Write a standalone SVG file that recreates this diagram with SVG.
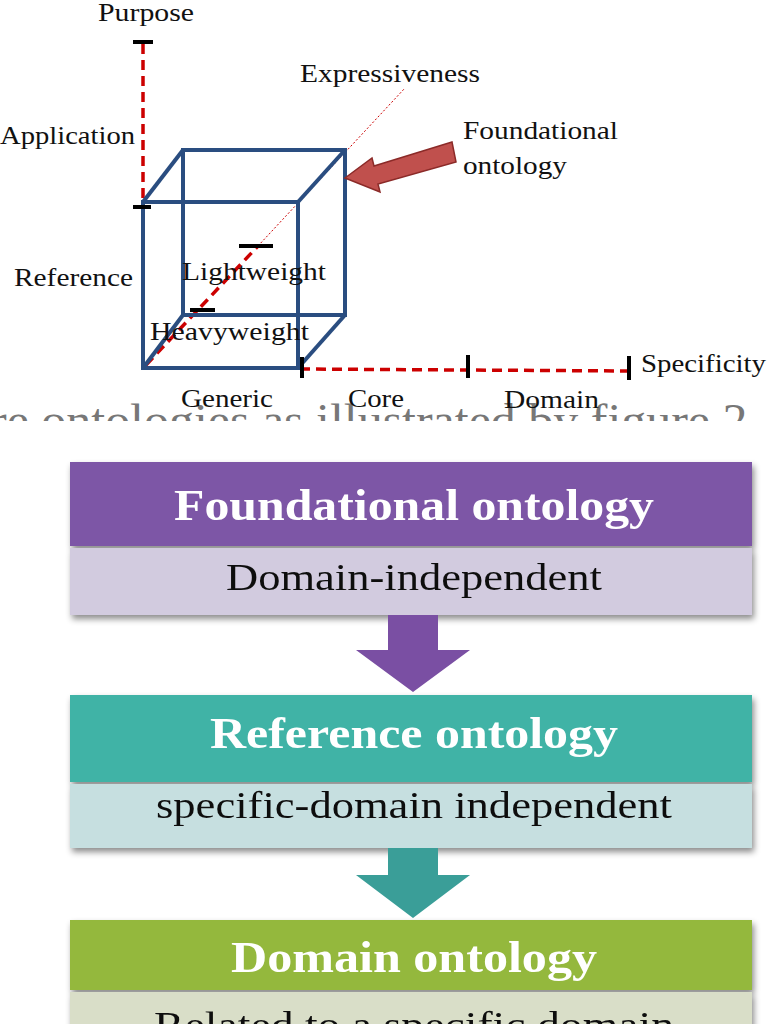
<svg xmlns="http://www.w3.org/2000/svg" width="768" height="1024" viewBox="0 0 768 1024">
<defs>
<style>
.t{font-family:"Liberation Serif",serif;fill:#111}
.h{font-family:"Liberation Serif",serif;font-weight:bold;fill:#fff;font-size:44px;text-anchor:middle}
.s{font-family:"Liberation Serif",serif;fill:#111;font-size:38px;text-anchor:middle}
.cube{stroke:#2a4d80;stroke-width:4;fill:none}
.ax{stroke:#c00;stroke-width:3.5;stroke-dasharray:10 6;fill:none}
.tk{stroke:#000;stroke-width:4}
</style>
<clipPath id="cp"><rect x="0" y="0" width="768" height="421"/></clipPath>
<filter id="sh" x="-5%" y="-10%" width="110%" height="130%"><feDropShadow dx="2" dy="4" stdDeviation="3" flood-color="#000" flood-opacity="0.45"/></filter>
</defs>
<rect width="768" height="1024" fill="#fff"/>
<text x="-10" y="436" clip-path="url(#cp)" font-family="Liberation Serif,serif" font-size="46" fill="#777" textLength="770" lengthAdjust="spacingAndGlyphs">re ontologies as illustrated by figure 2.</text>
<g id="connectors">
<line class="ax" x1="143" y1="44" x2="143" y2="368"/>
<line class="ax" x1="300" y1="369" x2="628" y2="371"/>
<line class="ax" x1="146" y1="365" x2="258" y2="246"/>
<line x1="258" y1="246" x2="405" y2="88" stroke="#c00" stroke-width="1" stroke-dasharray="2 2"/>
</g>
<g id="cube">
<polygon class="cube" points="183,150 345,150 345,315 183,315"/>
<polygon class="cube" points="143,202 298,202 298,368 143,368"/>
<line class="cube" x1="143" y1="202" x2="183" y2="150"/><line class="cube" x1="298" y1="202" x2="345" y2="150"/>
<line class="cube" x1="143" y1="368" x2="183" y2="315"/><line class="cube" x1="298" y1="368" x2="345" y2="315"/>
</g>
<g id="ticks">
<line class="tk" x1="133" y1="42" x2="153" y2="42"/>
<line class="tk" x1="133" y1="207" x2="151" y2="207"/>
<line class="tk" x1="239" y1="246" x2="273" y2="246"/>
<line class="tk" x1="190" y1="310" x2="215" y2="310"/>
<line class="tk" x1="302" y1="357" x2="302" y2="378"/>
<line class="tk" x1="468" y1="355" x2="468" y2="378"/>
<line class="tk" x1="629" y1="356" x2="629" y2="380"/>
</g>
<g id="labels" font-size="25" lengthAdjust="spacingAndGlyphs">
<text class="t" x="98" y="21" textLength="96" lengthAdjust="spacingAndGlyphs">Purpose</text>
<text class="t" x="300" y="82" textLength="180" lengthAdjust="spacingAndGlyphs">Expressiveness</text>
<text class="t" x="0" y="144" textLength="135" lengthAdjust="spacingAndGlyphs">Application</text>
<text class="t" x="14" y="286" textLength="119" lengthAdjust="spacingAndGlyphs">Reference</text>
<text class="t" x="182" y="280" textLength="144" lengthAdjust="spacingAndGlyphs">Lightweight</text>
<text class="t" x="150" y="340" textLength="159" lengthAdjust="spacingAndGlyphs">Heavyweight</text>
<text class="t" x="641" y="372" textLength="125" lengthAdjust="spacingAndGlyphs">Specificity</text>
<text class="t" x="181" y="407" textLength="92" lengthAdjust="spacingAndGlyphs">Generic</text>
<text class="t" x="348" y="407" textLength="56" lengthAdjust="spacingAndGlyphs">Core</text>
<text class="t" x="504" y="408" textLength="95" lengthAdjust="spacingAndGlyphs">Domain</text>
<text class="t" x="463" y="139" textLength="155" lengthAdjust="spacingAndGlyphs">Foundational</text>
<text class="t" x="463" y="174" textLength="104" lengthAdjust="spacingAndGlyphs">ontology</text>
</g>
<g id="redarrow">
<polygon points="345,178 372,158 374,166 452,142 456,162 378,184 380,192" fill="#c0504d" stroke="#8b2a28" stroke-width="1.5"/>
</g>
<g id="foundational" filter="url(#sh)">
<rect x="70" y="462" width="682" height="84" fill="#7d56a6"/>
<rect x="70" y="548" width="682" height="67" fill="#d2cbdf"/>
<text class="h" x="414" y="520" textLength="480" lengthAdjust="spacingAndGlyphs">Foundational ontology</text>
<text class="s" x="414" y="590" textLength="376" lengthAdjust="spacingAndGlyphs">Domain-independent</text>
</g>
<g id="arrow1"><polygon points="388,615 438,615 438,650 470,650 413,692 356,650 388,650" fill="#7a4fa3"/></g>
<g id="reference" filter="url(#sh)">
<rect x="70" y="695" width="682" height="87" fill="#40b3a6"/>
<rect x="70" y="784" width="682" height="64" fill="#c6dfe0"/>
<text class="h" x="414" y="748" textLength="408" lengthAdjust="spacingAndGlyphs">Reference ontology</text>
<text class="s" x="414" y="818" textLength="516" lengthAdjust="spacingAndGlyphs">specific-domain independent</text>
</g>
<g id="arrow2"><polygon points="388,848 438,848 438,875 470,875 413,918 356,875 388,875" fill="#3a9e98"/></g>
<g id="domain" filter="url(#sh)">
<rect x="70" y="920" width="682" height="70" fill="#94b83c"/>
<rect x="70" y="992" width="682" height="40" fill="#d9dec8"/>
<text class="h" x="414" y="972" textLength="366" lengthAdjust="spacingAndGlyphs">Domain ontology</text>
<text class="s" x="414" y="1038" textLength="520" lengthAdjust="spacingAndGlyphs">Related to a specific domain</text>
</g>
</svg>
